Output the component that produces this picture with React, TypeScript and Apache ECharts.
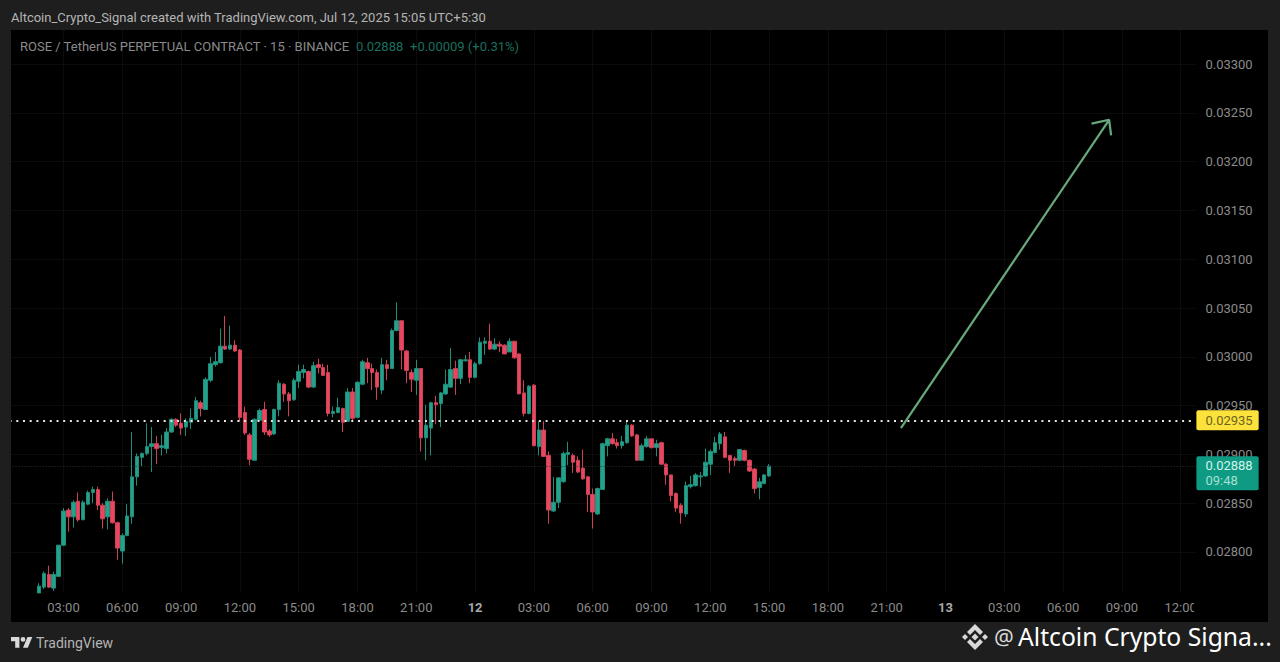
import React, { useEffect, useRef } from "react";
import * as echarts from "echarts";

const opens = [2758,2764,2777,2763,2775,2807,2843,2836,2852,2833,2849,2861,2864,2848,2836,2852,2830,2801,2817,2836,2877,2897,2901,2908,2911,2907,2906,2923,2936,2932,2928,2933,2936,2953,2946,2976,2992,2994,3011,3008,3012,3007,2943,2920,2894,2935,2946,2924,2921,2946,2972,2962,2956,2975,2984,2985,2969,2992,2989,2984,2942,2943,2947,2934,2964,2938,2972,2994,2988,2984,2966,2992,2988,3027,3037,3006,2984,2976,2988,2917,2927,2953,2952,2962,2969,2988,2978,2996,2997,2979,2993,3014,3016,3008,3013,3012,3005,3016,3003,2963,2942,2971,2908,2925,2899,2842,2851,2872,2900,2899,2894,2886,2877,2859,2839,2864,2909,2916,2912,2909,2912,2930,2920,2894,2908,2916,2907,2912,2890,2879,2860,2848,2839,2867,2868,2877,2878,2890,2902,2911,2918,2899,2896,2894,2904,2894,2885,2866,2870,2878];
const closes = [2765,2778,2764,2777,2807,2842,2836,2851,2833,2851,2861,2864,2848,2834,2852,2830,2804,2817,2837,2877,2898,2901,2908,2911,2906,2909,2923,2936,2930,2927,2934,2937,2955,2947,2977,2993,2995,3011,3008,3012,3006,2938,2922,2895,2936,2945,2923,2920,2946,2973,2962,2955,2976,2985,2987,2969,2991,2989,2981,2942,2944,2948,2933,2964,2937,2974,2995,2988,2984,2969,2992,2988,3027,3037,3007,2986,2977,2988,2917,2930,2953,2951,2963,2972,2987,2978,2997,2997,2979,2993,3015,3016,3008,3013,3011,3003,3016,2999,2962,2942,2970,2909,2925,2898,2843,2851,2876,2901,2902,2892,2882,2875,2859,2841,2865,2911,2916,2911,2909,2913,2930,2919,2894,2909,2916,2907,2911,2890,2879,2858,2845,2840,2868,2869,2879,2878,2892,2903,2912,2921,2897,2894,2894,2905,2894,2883,2865,2872,2879,2888];
const lows = [2758,2762,2763,2760,2775,2806,2821,2825,2831,2833,2848,2850,2843,2824,2823,2829,2792,2788,2816,2829,2868,2888,2899,2882,2890,2899,2901,2922,2928,2920,2919,2926,2935,2939,2946,2974,2990,2993,3007,3007,3005,2934,2920,2889,2894,2935,2920,2918,2920,2939,2954,2939,2955,2968,2978,2968,2968,2983,2981,2939,2938,2942,2923,2934,2934,2937,2971,2973,2966,2956,2962,2976,2988,3026,2987,2973,2964,2961,2903,2894,2899,2931,2928,2961,2968,2961,2972,2995,2973,2978,2992,3002,3007,3007,3005,3003,3005,2998,2962,2939,2941,2908,2899,2898,2829,2841,2845,2871,2889,2881,2881,2874,2841,2824,2838,2864,2898,2910,2906,2906,2911,2918,2894,2894,2907,2906,2898,2889,2869,2852,2841,2829,2836,2865,2867,2867,2877,2879,2901,2905,2896,2881,2888,2893,2893,2882,2860,2854,2870,2877];
const highs = [2768,2780,2786,2780,2807,2845,2845,2853,2861,2853,2863,2867,2867,2850,2855,2862,2831,2819,2849,2923,2901,2902,2932,2928,2919,2920,2927,2937,2937,2942,2937,2947,2959,2955,2979,3000,3005,3029,3042,3032,3017,3008,2949,2922,2937,2947,2954,2926,2947,2976,2973,2964,2978,2992,2992,2986,2995,2998,2993,2992,2949,2958,2948,2968,2968,2975,2997,2999,2993,2987,2999,2997,3029,3056,3037,3007,2987,2997,2988,2951,2954,2960,2964,2987,3009,2996,2998,3002,3005,2995,3020,3020,3034,3019,3016,3013,3019,3016,3004,2976,2971,2972,2934,2934,2903,2877,2876,2903,2913,2901,2898,2905,2878,2865,2866,2912,2917,2922,2916,2919,2934,2931,2921,2911,2919,2916,2915,2913,2891,2879,2861,2850,2872,2878,2881,2882,2906,2905,2918,2923,2923,2899,2898,2905,2905,2895,2886,2876,2880,2890];

const timeLabels = ["03:00","06:00","09:00","12:00","15:00","18:00","21:00","12","03:00","06:00","09:00","12:00","15:00","18:00","21:00","13","03:00","06:00","09:00","12:00"];
const priceTicks = [0.028, 0.0285, 0.029, 0.0295, 0.03, 0.0305, 0.031, 0.0315, 0.032, 0.0325, 0.033];
const alertPrice = 0.02935;
const lastPrice = 0.02888;
const countdown = "09:48";
const arrowSlots = [181.9, 224.4, 220.8, 224.4, 224.8];
const arrowPrices = [0.02927, 0.03243, 0.03239, 0.03243, 0.03227];

const LEAD_SLOTS = 6;
const TOTAL_SLOTS = 243;
const FIRST_LABEL = 11;
const LABEL_EVERY = 12;
const UNIT = 100000;

const categories: string[] = Array.from({ length: TOTAL_SLOTS }, (_, i) => {
  const k = (i - FIRST_LABEL) / LABEL_EVERY;
  return Number.isInteger(k) && timeLabels[k] ? timeLabels[k] : "";
});
const candles = opens.map((o, i) => [o / UNIT, closes[i] / UNIT, lows[i] / UNIT, highs[i] / UNIT]);
const candleData: any[] = [...Array(LEAD_SLOTS).fill("-"), ...candles];
const isLabelSlot = (i: number) => (i - FIRST_LABEL) % LABEL_EVERY === 0 && i >= FIRST_LABEL;

const BG = "#1e1e1e";
const FONT = "Roboto";

const diamond = (cx: number, cy: number, r: number) => [[cx, cy - r], [cx + r, cy], [cx, cy + r], [cx - r, cy]];
const mark = (points: number[][]) => ({
  type: "polygon", z: 60, shape: { points }, style: { fill: "#d9d9d9" },
});
const LX = 975, LY = 637;
const TV_PATH = "M14 22H7V11H0V4h14v18zM28 22h-8l7.5-18h8L28 22zM24 8a4 4 0 1 1-8 0 4 4 0 0 1 8 0z";

export default function App() {
  const ref = useRef<HTMLDivElement>(null);
  useEffect(() => {
    echarts.graphic.registerShape("tvlogo", echarts.graphic.extendPath(TV_PATH, {}) as any);
    const chart = echarts.init(ref.current!, undefined, { renderer: "svg" });
    chart.setOption({
      animation: false,
      backgroundColor: BG,
      textStyle: { fontFamily: FONT },
      grid: { left: 9.6, top: 30, width: 1185.8, height: 562, containLabel: false },
      xAxis: [
        {
          type: "category",
          data: categories,
          boundaryGap: false,
          axisLine: { show: false },
          axisTick: { show: false },
          splitLine: { show: true, interval: (i: number) => isLabelSlot(i), lineStyle: { color: "#0c0c0c", width: 1 } },
          axisLabel: {
            interval: (i: number) => isLabelSlot(i),
            margin: 9,
            color: "#8a8a8a",
            fontSize: 13,
            fontFamily: FONT,
            formatter: (v: string) => (v.length === 2 ? `{b|${v}}` : v),
            rich: { b: { fontWeight: "bold", color: "#a8a8a8", fontSize: 13, fontFamily: FONT } },
          },
        },
        { type: "value", min: 0, max: 242, show: false, splitLine: { show: false } },
      ],
      yAxis: {
        type: "value",
        position: "right",
        min: 0.02759,
        max: 0.03335,
        axisLine: { show: false },
        axisTick: { show: false, customValues: priceTicks },
        splitLine: { show: true, lineStyle: { color: "#0c0c0c", width: 1 } },
        axisLabel: {
          customValues: priceTicks,
          margin: 10,
          color: "#8a8a8a",
          fontSize: 13,
          fontFamily: FONT,
          formatter: (v: number) => v.toFixed(5),
        },
      },
      series: [
        {
          type: "candlestick",
          xAxisIndex: 0,
          data: candleData,
          barWidth: 4,
          clip: false,
          itemStyle: {
            color: "#23a18b",
            color0: "#e8475f",
            borderColor: "#1f8d7a",
            borderColor0: "#cf4156",
            borderWidth: 1,
          },
        },
        {
          type: "line",
          xAxisIndex: 1,
          yAxisIndex: 0,
          data: arrowSlots.map((s, i) => [s, arrowPrices[i]]),
          showSymbol: false,
          symbol: "none",
          clip: false,
          silent: true,
          z: 6,
          lineStyle: { color: "#66a97c", width: 2.2 },
          markLine: {
            silent: true,
            symbol: "none",
            animation: false,
            precision: 5,
            data: [
              {
                yAxis: alertPrice,
                lineStyle: { color: "#e6e6e6", type: [2, 4.7], width: 2 },
                label: {
                  show: true,
                  position: "end",
                  distance: 1,
                  formatter: alertPrice.toFixed(5),
                  backgroundColor: "#fde23c",
                  color: "#6a6322",
                  fontSize: 13,
                  fontFamily: FONT,
                  padding: [4, 6, 3, 9],
                  borderRadius: 2,
                },
              },
              {
                yAxis: lastPrice,
                lineStyle: { color: "#24352f", type: [1, 2], width: 1 },
                label: {
                  show: true,
                  position: "end",
                  distance: 1,
                  offset: [0, 7],
                  formatter: `{a|${lastPrice.toFixed(5)}}\n{c|${countdown}}`,
                  backgroundColor: "#0e9a83",
                  padding: [2, 6, 2, 9],
                  borderRadius: 2,
                  rich: {
                    a: { color: "#d5f3eb", fontSize: 13, fontFamily: FONT, lineHeight: 15 },
                    c: { color: "#a6e0d2", fontSize: 13, fontFamily: FONT, lineHeight: 15 },
                  },
                },
              },
            ],
          },
        },
      ],
      graphic: [
        { type: "rect", z: -1, shape: { x: 11, y: 30, width: 1257, height: 592 }, style: { fill: "#000000" } },
        { type: "rect", z: 50, shape: { x: 0, y: 30, width: 11, height: 592 }, style: { fill: BG } },
        { type: "rect", z: 50, shape: { x: 1194, y: 597, width: 74, height: 25 }, style: { fill: "#000000" } },
        {
          type: "text", z: 60, x: 11, y: 17,
          style: { text: "Altcoin_Crypto_Signal created with TradingView.com, Jul 12, 2025 15:05 UTC+5:30", fill: "#b5b5b5", font: `13px ${FONT}`, textVerticalAlign: "middle" },
        },
        {
          type: "text", z: 60, x: 20, y: 46,
          style: { text: "ROSE / TetherUS PERPETUAL CONTRACT · 15 · BINANCE", fill: "#8a8a8a", font: `13px ${FONT}`, textVerticalAlign: "middle" },
        },
        {
          type: "text", z: 60, x: 356, y: 46,
          style: { text: "0.02888", fill: "#1c6e5e", font: `13px ${FONT}`, textVerticalAlign: "middle" },
        },
        {
          type: "text", z: 60, x: 410, y: 46,
          style: { text: "+0.00009 (+0.31%)", fill: "#1c6e5e", font: `13px ${FONT}`, textVerticalAlign: "middle" },
        },
        {
          type: "tvlogo", z: 60, x: 11, y: 634.6, scaleX: 0.6, scaleY: 0.6,
          style: { fill: "#d9d9d9" },
        },
        {
          type: "text", z: 60, x: 36, y: 643,
          style: { text: "TradingView", fill: "#b5b5b5", font: `14px ${FONT}`, textVerticalAlign: "middle" },
        },
        mark([[LX, LY - 13], [LX + 8, LY - 5], [LX + 5, LY - 2], [LX, LY - 7], [LX - 5, LY - 2], [LX - 8, LY - 5]]),
        mark([[LX, LY + 13], [LX + 8, LY + 5], [LX + 5, LY + 2], [LX, LY + 7], [LX - 5, LY + 2], [LX - 8, LY + 5]]),
        mark(diamond(LX, LY, 3.5)),
        mark(diamond(LX - 10, LY, 3)),
        mark(diamond(LX + 10, LY, 3)),
        {
          type: "text", z: 60, x: 994, y: 636,
          style: { text: "@", fill: "#d9d9d9", font: `22px "Noto Sans"`, textVerticalAlign: "middle" },
        },
        {
          type: "text", z: 60, x: 1018, y: 636,
          style: { text: "Altcoin Crypto Signa...", fill: "#ffffff", font: `24.7px "Noto Sans"`, textVerticalAlign: "middle" },
        },
      ],
    });
    return () => chart.dispose();
  }, []);
  return <div ref={ref} style={{ position: "absolute", left: 0, top: 0, width: 1280, height: 662 }} />;
}
